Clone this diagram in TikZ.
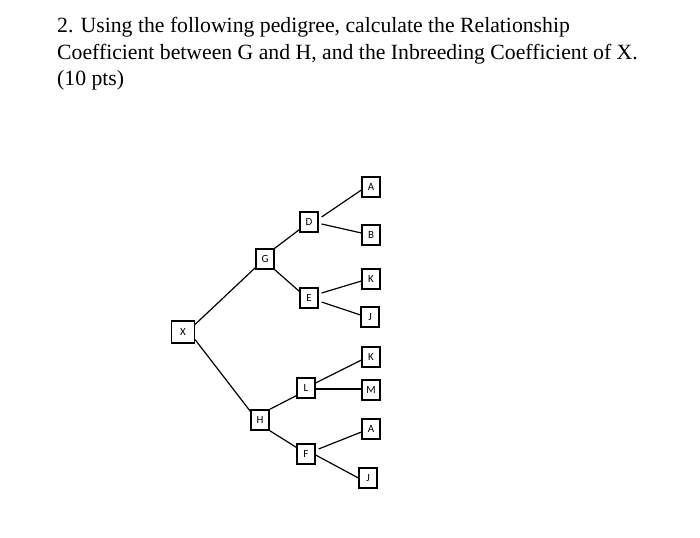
\documentclass[tikz,border=0pt]{standalone}
\usepackage{fontspec}
\usetikzlibrary{calc}
\setmainfont{Liberation Serif}
\newfontfamily\boxfont{Carlito}
\begin{document}
\begin{tikzpicture}[x=1bp,y=-1bp,
  pbox/.style={draw,line width=1.2pt,minimum width=18bp,minimum height=20bp,inner sep=0pt,font=\boxfont\fontsize{11}{12}\selectfont},
  ttl/.style={anchor=base west,inner sep=0pt,font=\fontsize{21.8}{26.5}\selectfont},
  link/.style={line width=1.2pt}]
\useasboundingbox (0,0) rectangle (700,538);
\node[ttl] (T) at (57,33) {2. Using the following pedigree, calculate the Relationship};
\node[ttl] (T2) at (57,60) {Coefficient between G and H, and the Inbreeding Coefficient of X.};
\node[ttl] (T3) at (57,86) {(10 pts)};
\node[pbox,minimum width=23bp,minimum height=22bp] (X) at (183,332) {X};
\node[pbox] (G) at (265,259) {G};
\node[pbox] (D) at (309,222) {D};
\node[pbox] (E) at (309,298) {E};
\node[pbox] (A) at (371,187) {A};
\node[pbox] (B) at (371,235) {B};
\node[pbox] (K) at (371,279) {K};
\node[pbox] (J) at (370,317) {J};
\node[pbox] (H) at (260,420) {H};
\node[pbox] (L) at (306,388) {L};
\node[pbox] (F) at (306,454) {F};
\node[pbox] (K2) at (371,357) {K};
\node[pbox] (M) at (371,390) {M};
\node[pbox] (A2) at (371,429) {A};
\node[pbox] (J2) at (368,478) {J};
\draw[link] ($(X.north east)+(0,4)$) -- ($(G.south west)+(0,-2)$);
\draw[link] ($(X.south east)+(0,-4)$) -- ($(H.north west)+(0,2)$);
\draw[link] (G.north east) -- ($(D.south west)+(0,-3)$);
\draw[link] (G.south east) -- ($(E.north west)+(0,4)$);
\draw[link] ($(D.east)+(3,-5)$) -- ($(A.west)+(0,3)$);
\draw[link] ($(D.east)+(3,2)$) -- ($(B.west)+(0,-2)$);
\draw[link] ($(E.east)+(3,-5)$) -- ($(K.west)+(0,2)$);
\draw[link] ($(E.east)+(3,4)$) -- ($(J.west)+(0,-2)$);
\draw[link] (H.north east) -- ($(L.south west)+(0,-3)$);
\draw[link] (H.south east) -- ($(F.north west)+(0,4)$);
\draw[link] ($(L.east)+(0,-5)$) -- ($(K2.west)+(0,3)$);
\draw[link] ($(L.east)+(0,1)$) -- ($(M.west)+(0,-1)$);
\draw[link] ($(F.east)+(3,-5)$) -- ($(A2.west)+(0,3)$);
\draw[link] ($(F.east)+(0,1)$) -- ($(J2.west)+(0,0)$);
\end{tikzpicture}
\end{document}
